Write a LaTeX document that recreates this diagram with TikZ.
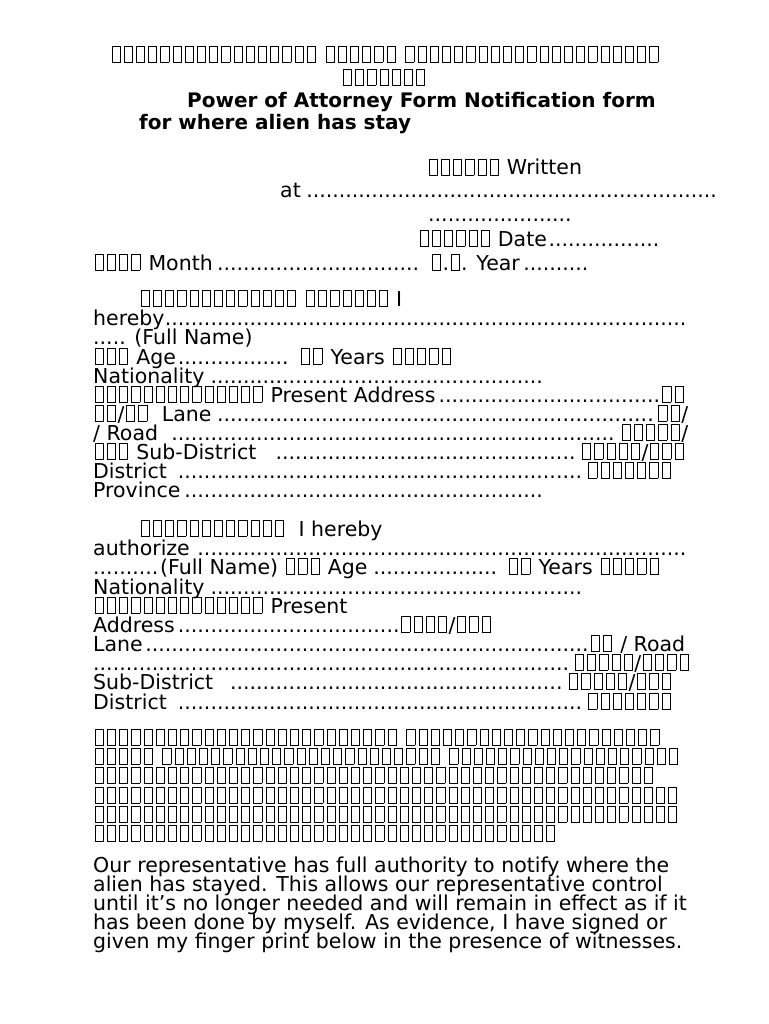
\documentclass[tikz,border=0pt]{standalone}
\usepackage{fontspec}
\setmainfont{DejaVu Sans}
\newcount\tc
\setlength\fboxsep{0pt}\setlength\fboxrule{0.8pt}
\newcommand\tb{\kern1.6pt\fbox{\rule{0pt}{15.5pt}\hspace{7.4pt}}\kern1.6pt}
\newcommand\tofu[1]{\tc=#1\relax\loop\ifnum\tc>0 \tb\advance\tc-1 \repeat}
\newcommand\df[1][1]{\leaders\hbox{.}\hskip0pt plus #1fill\relax}
\begin{document}
\begin{tikzpicture}[x=1pt,y=-1pt,L/.style={anchor=base west,inner sep=0pt,font=\fontsize{20.5}{19}\selectfont}]
\useasboundingbox (0,0) rectangle (768,1024);
\fill[white] (0,0) rectangle (768,1024);
\node[L,anchor=base] (t1) at (385,62) {\tofu{17}\ \tofu{6}\ \tofu{21}};
\node[L,anchor=base] (t2) at (384,85) {\tofu{7}};
\node[L,font=\bfseries\fontsize{20}{19}\selectfont] (t3) at (187,108) {Power of Attorney Form Notification form};
\node[L,font=\bfseries\fontsize{20}{19}\selectfont] (t4) at (139,130) {for where alien has stay};
\node[L] (a1) at (427,175) {\tofu{6} Written};
\node[L] (a2) at (280,198) {\hbox to 440pt{at\df}};
\node[L] (a3) at (428,222) {\hbox to 147pt{\df}};
\node[L] (a4) at (418,246) {\hbox to 242pt{\tofu{6} Date\df}};
\node[L] (a5) at (93,270) {\hbox to 497pt{\tofu{4} Month\df[3]\ \tofu{1}.\tofu{1}. Year\df}};
\node[L] (b1) at (139,306) {\tofu{13}\ \tofu{7} I};
\node[L] (b2) at (93,325) {\hbox to 595pt{hereby\df}};
\node[L] (b3) at (93,344) {..... (Full Name)};
\node[L] (b4) at (93,364) {\hbox to 359pt{\tofu{3} Age\df\ \tofu{2} Years \tofu{5}}};
\node[L] (b5) at (93,383) {\hbox to 452pt{Nationality\df}};
\node[L] (b6) at (93,402) {\hbox to 592pt{\tofu{14} Present Address\df\tofu{2}}};
\node[L] (b7) at (93,421) {\hbox to 595pt{\tofu{2}/\tofu{2}\ \ Lane\df\tofu{2}/}};
\node[L] (b8) at (93,440) {\hbox to 595pt{/ Road\ \ \df\tofu{5}/}};
\node[L] (b9) at (93,459) {\hbox to 592pt{\tofu{3} Sub-District\ \ \df\tofu{5}/\tofu{3}}};
\node[L] (b10) at (93,478) {\hbox to 579pt{District \df\tofu{7}}};
\node[L] (b11) at (93,497) {\hbox to 454pt{Province\df}};
\node[L] (c1) at (139,536) {\tofu{12}\ \ I hereby};
\node[L] (c2) at (93,555) {\hbox to 595pt{authorize \df}};
\node[L] (c3) at (93,574) {\hbox to 567pt{\df[1](Full Name) \tofu{3} Age\df[2]\ \tofu{2} Years \tofu{5}}};
\node[L] (c4) at (93,594) {\hbox to 492pt{Nationality\df}};
\node[L] (c5) at (93,613) {\tofu{14} Present};
\node[L] (c6) at (93,632) {\hbox to 399pt{Address\df\tofu{4}/\tofu{3}}};
\node[L] (c7) at (93,651) {\hbox to 592pt{Lane\df\tofu{2} / Road}};
\node[L] (c8) at (93,670) {\hbox to 597pt{\df\tofu{5}/\tofu{4}}};
\node[L] (c9) at (93,689) {\hbox to 579pt{Sub-District\ \ \df\tofu{5}/\tofu{3}}};
\node[L] (c10) at (93,709) {\hbox to 579pt{District \df\tofu{7}}};
\node[L] (d1) at (93,745) {\tofu{25}\ \tofu{21}};
\node[L] (d2) at (93,764) {\tofu{5}\ \tofu{23}\ \tofu{19}};
\node[L] (d3) at (93,783) {\tofu{46}};
\node[L] (d4) at (93,803) {\tofu{48}};
\node[L] (d5) at (93,822) {\tofu{48}};
\node[L] (d6) at (93,841) {\tofu{38}};
\node[L] (e1) at (93,872) {Our representative has full authority to notify where the};
\node[L] (e2) at (93,891) {alien has stayed. This allows our representative control};
\node[L] (e3) at (93,910) {until it’s no longer needed and will remain in effect as if it};
\node[L] (e4) at (93,929) {has been done by myself. As evidence, I have signed or};
\node[L] (e5) at (93,948) {given my finger print below in the presence of witnesses.};
\end{tikzpicture}
\end{document}
